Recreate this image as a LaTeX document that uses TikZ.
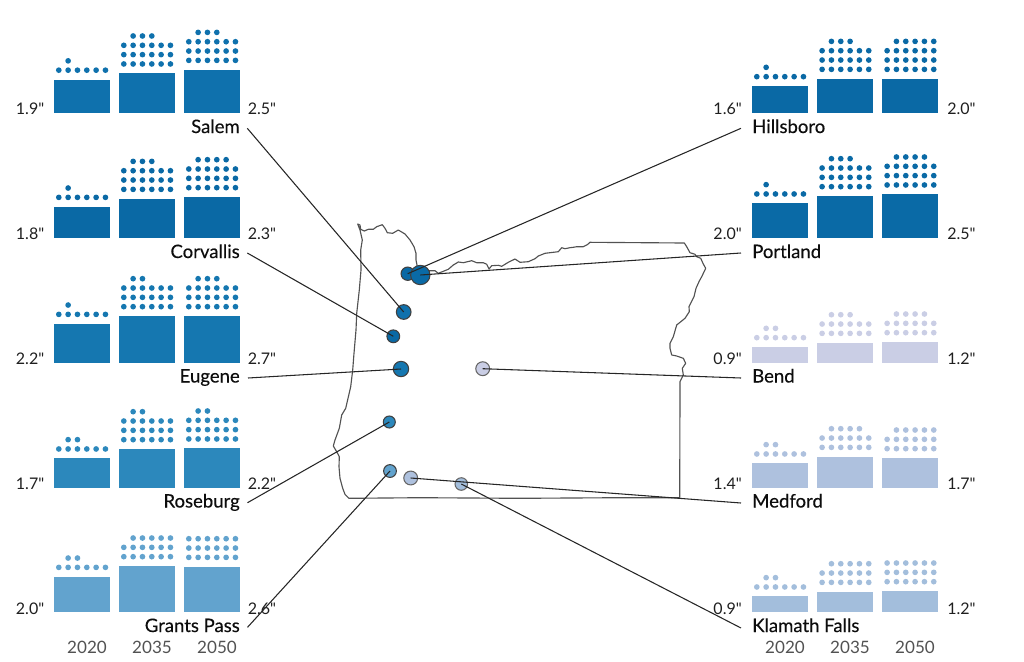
\documentclass[tikz,border=0pt]{standalone}
\usepackage{fontspec}
\setmainfont{Lato}[Ligatures=TeXOff]
\newfontfamily\namefont{Lato}[Ligatures=TeXOff,FakeBold=0.25]
\definecolor{csalem}{HTML}{0F71AD}
\definecolor{ccorv}{HTML}{0A69A5}
\definecolor{ceug}{HTML}{1577B0}
\definecolor{crose}{HTML}{2C88BC}
\definecolor{cgrant}{HTML}{62A3CE}
\definecolor{chill}{HTML}{0A69A5}
\definecolor{cport}{HTML}{0A6AA6}
\definecolor{cbend}{HTML}{CACEE5}
\definecolor{cmed}{HTML}{AEC1DE}
\definecolor{cklam}{HTML}{A3BEDC}
\newcommand{\barcol}[6]{%
  \fill[#4] (#1,#2) rectangle (#1+56,#3);
  \foreach \rr in {1,...,#5}{\foreach \cc in {0,...,5}{\fill[#4] (#1+4.8+9.33*\cc,#2-9.33*\rr) circle[radius=2.85];}}
  \ifnum#6>0
    \foreach \cc in {1,...,#6}{\fill[#4] (#1+4.8+9.33*\cc,#2-9.33-9.33*#5) circle[radius=2.85];}
  \fi}
\tikzset{
  mapline/.style={draw=black!68,line width=0.85pt,line join=round},
  leader/.style={draw=black!85,line width=0.8pt},
  citydot/.style={circle,inner sep=0pt,draw=black!75,line width=0.8pt},
  vallabel/.style={font=\fontsize{12pt}{14pt}\selectfont,text=black!88,inner sep=0pt},
  namelabel/.style={font=\namefont\fontsize{13.9pt}{15pt}\selectfont,text=black!95,inner sep=0pt},
  yearlabel/.style={font=\fontsize{12.8pt}{15pt}\selectfont,text=black!68,inner sep=0pt,anchor=base},
}
\begin{document}
\begin{tikzpicture}[x=0.75pt,y=-0.75pt]
\useasboundingbox (0,0) rectangle (1024,661);
% bars and dot stacks
\foreach \xx/\tt/\bb/\kk/\rw/\ex in {
 54/79.5/113.3/csalem/1/1, 119/73.3/113.3/csalem/3/3, 184/69.7/113.3/csalem/3/3,
 54/206.7/238.3/ccorv/1/1, 119/198.7/238.3/ccorv/3/3, 184/197/238.3/ccorv/3/4,
 54/323.7/362.7/ceug/1/1, 119/316/362.7/ceug/3/2, 184/316/362.7/ceug/3/3,
 54/458.3/487.7/crose/1/2, 119/449/487.7/crose/3/2, 184/448.3/487.7/crose/3/2,
 54/576.7/612.3/cgrant/1/2, 119/566/612.3/cgrant/2/5, 184/566.7/612.3/cgrant/3/0,
 752/86/113.3/chill/1/1, 817.3/78.7/113.3/chill/3/3, 882.3/78.7/113.3/chill/3/5,
 752/203.3/238.3/cport/1/1, 817.3/196/238.3/cport/3/3, 882.3/194.3/238.3/cport/3/4,
 752/347/363/cbend/1/2, 817.3/342.7/363/cbend/2/3, 882.3/342/363/cbend/2/4,
 752/463.3/487.7/cmed/1/2, 817.3/456.7/487.7/cmed/2/4, 882.3/458/487.7/cmed/2/5,
 752/596.3/612.3/cklam/1/2, 817.3/591.7/612.3/cklam/2/5, 882.3/591/612.3/cklam/3/0}{
  \barcol{\xx}{\tt}{\bb}{\kk}{\rw}{\ex}
}
% value labels
\foreach \nm/\yy/\va/\vb in {a/114/1.9/2.5, b/239/1.8/2.3, c/364/2.2/2.7, d/489/1.7/2.2, e/614/2.0/2.6}{
  \node[vallabel,anchor=base east] (l\nm) at (44.5,\yy) {\va"};
  \node[vallabel,anchor=base west] (r\nm) at (247.5,\yy) {\vb"};
}
\foreach \nm/\yy/\va/\vb in {f/114/1.6/2.0, g/239/2.0/2.5, h/364/0.9/1.2, i/489/1.4/1.7, j/614/0.9/1.2}{
  \node[vallabel,anchor=base east] (l\nm) at (742,\yy) {\va"};
  \node[vallabel,anchor=base west] (r\nm) at (947,\yy) {\vb"};
}
% years
\node[yearlabel] (ya) at (87,653) {2020};
\node[yearlabel] (yb) at (152,653) {2035};
\node[yearlabel] (yc) at (217,653) {2050};
\node[yearlabel] (yd) at (785,653) {2020};
\node[yearlabel] (ye) at (850,653) {2035};
\node[yearlabel] (yf) at (915,653) {2050};
% city names
\node[namelabel,anchor=base east] (nsalem) at (240,133) {Salem};
\node[namelabel,anchor=base east] (ncorv) at (240,258) {Corvallis};
\node[namelabel,anchor=base east] (neug) at (240,382.5) {Eugene};
\node[namelabel,anchor=base east] (nrose) at (240,507.5) {Roseburg};
\node[namelabel,anchor=base east] (ngrant) at (240,632) {Grants Pass};
\node[namelabel,anchor=base west] (nhill) at (752,133) {Hillsboro};
\node[namelabel,anchor=base west] (nport) at (752,258) {Portland};
\node[namelabel,anchor=base west] (nbend) at (752,382.5) {Bend};
\node[namelabel,anchor=base west] (nmed) at (752,507.5) {Medford};
\node[namelabel,anchor=base west] (nklam) at (752,632) {Klamath Falls};
% state outline
\draw[mapline] (357.7,224) -- (360,225) -- (360.7,229.3) -- (364.3,231) -- (368.3,229.3) -- (373.3,229.3) -- (376.7,226.7) -- (382.3,224.7) -- (385,228.3) -- (387.3,232.7) -- (392.7,233.3) -- (398.3,230) -- (405,234) -- (410,240) -- (414,246.7) -- (416,253.3) -- (416,260) -- (417.3,266.7) -- (422,270) -- (430,270.7) -- (435,270.7) -- (438.3,273.3) -- (443.3,271.3) -- (448.3,269.3) -- (453.3,265) -- (458.3,262) -- (463.3,262.7) -- (471.7,260.7) -- (476.7,262.7) -- (483.3,262.7) -- (486.7,264.3) -- (489,269) -- (491.7,265.7) -- (498.3,265.3) -- (501.7,266.3) -- (508.3,262.3) -- (515,259) -- (520,262.3) -- (528.3,261.7) -- (535,258.7) -- (538.3,256) -- (545,253.3) -- (553.3,252.3) -- (558.3,251.7) -- (561.7,247.7) -- (565,248.7) -- (570,247.7) -- (573.3,247.3) -- (576.7,246.7) -- (583.3,246.7) -- (587.3,244.7) -- (590,242.3) -- (684.3,243) -- (686.7,246.7) -- (690,252.7) -- (695,254.3) -- (696.7,256.7) -- (700.7,258.3) -- (703.3,264) -- (705.7,268.3) -- (701.7,276.7) -- (699.3,281) -- (696,288.3) -- (694,296.7) -- (689,306.7) -- (689.3,311.7) -- (685,318.3) -- (676.7,325) -- (673.3,336.7) -- (670,343.3) -- (670,348.3) -- (671.7,355) -- (676.7,356) -- (683.3,358.3) -- (685.7,363.3) -- (682.3,368.3) -- (683.3,375) -- (680,381.7) -- (680,390) -- (679.7,497.7) -- (620,497.7) -- (520,498.3) -- (420,497.7) -- (349,498.3) -- (345,494.3) -- (342.7,488.3) -- (340,478.3) -- (339,466.7) -- (339.3,456.7) -- (336.7,451.7) -- (333.3,446) -- (335,440) -- (339.3,428.3) -- (341.7,415) -- (345.7,408.3) -- (350.7,386.7) -- (352.7,370) -- (354,353.3) -- (356,330) -- (356.7,313.3) -- (359.3,290) -- (361,270) -- (360.7,250) -- (362.3,240) -- (360,230) -- cycle;
% city dots
\node[citydot,fill=chill,minimum size=10pt] (dhill) at (407.7,273.7) {};
\node[citydot,fill=cport,minimum size=14.5pt] (dport) at (420.3,275) {};
\node[citydot,fill=csalem,minimum size=11pt] (dsalem) at (403.7,312) {};
\node[citydot,fill=ccorv,minimum size=9.6pt] (dcorv) at (393.3,336.3) {};
\node[citydot,fill=ceug,minimum size=11.5pt] (deug) at (401,369) {};
\node[citydot,fill=cbend,minimum size=10.4pt,draw=black!60] (dbend) at (482.7,368.7) {};
\node[citydot,fill=crose,minimum size=9pt] (drose) at (389.3,422) {};
\node[citydot,fill=cgrant,minimum size=9.6pt] (dgrant) at (390,471) {};
\node[citydot,fill=cmed,minimum size=10.4pt,draw=black!60] (dmed) at (410.7,478) {};
\node[citydot,fill=cklam,minimum size=9.4pt,draw=black!60] (dklam) at (461.3,484) {};
% connector free ends
\coordinate (csalem0) at (247.3,128.3);
\coordinate (ccorv0) at (247.3,253);
\coordinate (ceug0) at (248,378);
\coordinate (crose0) at (247.5,502.7);
\coordinate (cgrant0) at (247.5,627.3);
\coordinate (chill0) at (741,128.3);
\coordinate (cport0) at (741,253);
\coordinate (cbend0) at (741,378);
\coordinate (cmed0) at (741,503);
\coordinate (cklam0) at (741,628);
% connectors
\draw[leader] (csalem0) -- (dsalem.center);
\draw[leader] (ccorv0) -- (dcorv.center);
\draw[leader] (ceug0) -- (deug.center);
\draw[leader] (crose0) -- (drose.center);
\draw[leader] (cgrant0) -- (dgrant.center);
\draw[leader] (chill0) -- (dhill.center);
\draw[leader] (cport0) -- (dport.center);
\draw[leader] (cbend0) -- (dbend.center);
\draw[leader] (cmed0) -- (dmed.center);
\draw[leader] (cklam0) -- (dklam.center);
\end{tikzpicture}
\end{document}
